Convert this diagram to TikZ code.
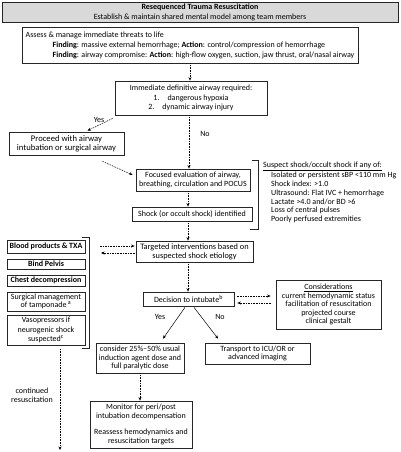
\documentclass[tikz,border=0pt]{standalone}
\usepackage{fontspec}
\setmainfont{Carlito}
\usetikzlibrary{arrows.meta,calc}
\begin{document}
\begin{tikzpicture}[x=1pt,y=-1pt,
  font=\fontsize{8}{8.8}\selectfont,
  box/.style={draw=black!85, line width=0.7pt, align=center, inner sep=0pt, anchor=center},
  dotarrow/.style={densely dotted, line width=0.6pt, -{Stealth[length=3.5pt,width=3pt]}},
  dasharrow/.style={dash pattern=on 1.6pt off 1pt, line width=0.5pt, -{Stealth[length=3.5pt,width=3pt]}},
  solarrow/.style={line width=0.5pt, -{Stealth[length=3.5pt,width=3pt]}},
  brack/.style={draw=black!85, line width=0.6pt},
  lbl/.style={inner sep=0pt}]
\useasboundingbox (0,0) rectangle (400,452);

% main boxes
\node[box, fill=black!15, minimum width=396pt, minimum height=20pt, font=\fontsize{8}{10}\selectfont] (title) at (200,12)
  {\textbf{Resequenced Trauma Resuscitation}\\Establish \& maintain shared mental model among team members};
\node[box, align=left, minimum width=336pt, minimum height=36pt, font=\fontsize{8}{10}\selectfont] (assess) at (190,45)
  {Assess \& manage immediate threats to life\\
   \hspace*{27pt}\textbf{Finding}: massive external hemorrhage; \textbf{Action}: control/compression of hemorrhage\\
   \hspace*{27pt}\textbf{Finding}: airway compromise: \textbf{Action}: high-flow oxygen, suction, jaw thrust, oral/nasal airway};
\node[box, minimum width=152pt, minimum height=34pt, font=\fontsize{8}{9.8}\selectfont] (airway) at (191,98)
  {Immediate definitive airway required:\\1.\hspace{8pt}dangerous hypoxia\\2.\hspace{8pt}dynamic airway injury};
\node[box, minimum width=115pt, minimum height=23pt, font=\fontsize{8.6}{9.2}\selectfont] (proceed) at (66.5,143.5)
  {Proceed with airway\\intubation or surgical airway};
\node[box, minimum width=114pt, minimum height=22pt] (focused) at (193,180)
  {Focused evaluation of airway,\\breathing, circulation and POCUS};
\node[box, minimum width=120pt, minimum height=14pt] (shock) at (192,214)
  {Shock (or occult shock) identified};
\node[box, minimum width=117pt, minimum height=21pt, font=\fontsize{8.3}{9}\selectfont] (targeted) at (194.5,251.5)
  {Targeted interventions based on\\suspected shock etiology};
\node[box, minimum width=91pt, minimum height=14pt] (decision) at (188.5,299)
  {Decision to intubate\textsuperscript{b}};
\node[box, minimum width=105pt, minimum height=49pt, font=\fontsize{8}{8.5}\selectfont] (considerations) at (328.5,304.5)
  {\underline{Considerations}\\current hemodynamic status\\facilitation of resuscitation\\projected course\\clinical gestalt};
\node[box, minimum width=88pt, minimum height=30pt] (consider) at (140,358)
  {consider 25\%–50\% usual\\induction agent dose and\\full paralytic dose};
\node[box, minimum width=105pt, minimum height=21pt] (transport) at (257.5,353.5)
  {Transport to ICU/OR or\\advanced imaging};
\node[box, minimum width=102pt, minimum height=47pt] (monitor) at (141,424.5)
  {Monitor for peri/post\\intubation decompensation\\[8pt]Reassess hemodynamics and\\resuscitation targets};

% left stack
\node[box, minimum width=78pt, minimum height=13pt] (blood) at (46,246.5) {\textbf{Blood products \& TXA}};
\node[box, minimum width=78pt, minimum height=10pt] (pelvis) at (46,264) {\textbf{Bind Pelvis}};
\node[box, minimum width=78pt, minimum height=11pt] (chest) at (46,280.5) {\textbf{Chest decompression}};
\node[box, minimum width=78pt, minimum height=19pt, font=\fontsize{8}{8.2}\selectfont] (surg) at (46,301.5) {Surgical management\\of tamponade\,\textsuperscript{a}};
\node[box, minimum width=78pt, minimum height=30pt, font=\fontsize{8}{9.4}\selectfont] (vaso) at (46,330) {Vasopressors if\\neurogenic shock\\suspected\textsuperscript{c}};

% brackets
\draw[brack] (82,237) -- (89,237) -- (89,348) -- (82,348);
\draw[brack] (252,160) -- (258,160) -- (258,229) -- (250,229);

% suspect text
\node[lbl, anchor=north west, align=left] (suspect) at (263,162)
  {\underline{Suspect shock/occult shock if any of:}\\
   \hspace*{8pt}Isolated or persistent sBP <110 mm Hg\\
   \hspace*{8pt}Shock index: >1.0\\
   \hspace*{8pt}Ultrasound: Flat IVC + hemorrhage\\
   \hspace*{8pt}Lactate >4.0 and/or BD >6\\
   \hspace*{8pt}Loss of central pulses\\
   \hspace*{8pt}Poorly perfused extremities};

% labels
\node[lbl] (yes1) at (99,120) {Yes};
\node[lbl] (no1) at (205,134) {No};
\node[lbl] (yes2) at (160,317) {Yes};
\node[lbl] (no2) at (220,317) {No};
\node[lbl, align=center] (cont) at (32,395) {continued\\resuscitation};

% coordinates
\coordinate (lbr1) at (100,246);
\coordinate (lbr2) at (101,253);
\coordinate (lbot) at (60,349);
\coordinate (cend) at (60,450);

% connectors
\draw[dotarrow] (assess.south) -- (assess.south |- airway.north);
\draw[dasharrow] ($(airway.south west)+(-2,3)$) -- ($(proceed.north)+(21,-1)$);
\draw[dotarrow] ($(airway.south)+(-2,0)$) -- ($(focused.north)+(-4,0)$);
\draw[dasharrow] ($(proceed.south)+(36,6)$) -- ($(focused.west)+(-3,-5)$);
\draw[dotarrow] ($(focused.south)+(-5,0)$) -- ($(shock.north)+(-4,0)$);
\draw[dotarrow] ($(shock.south)+(-4,0)$) -- ($(targeted.north)+(-6.5,0)$);
\draw[dotarrow] ($(targeted.south)+(-6.5,0)$) -- ($(decision.north)+(-0.5,0)$);
\draw[dasharrow] (lbr1) -- ($(lbr1 -| targeted.west)+(-1,0)$);
\draw[dasharrow] ($(lbr2 -| targeted.west)+(-1,0)$) -- (lbr2);
\draw[dasharrow] ($(decision.east)+(3,-3)$) -- ($(decision.east -| considerations.west)+(-5,-3)$);
\draw[dasharrow] ($(decision.east -| considerations.west)+(-5,4)$) -- ($(decision.east)+(3,4)$);
\draw[solarrow] ($(decision.south)+(-3.5,1)$) -- ($(consider.north)+(23,-4)$);
\draw[solarrow] ($(decision.south)+(5.5,1)$) -- ($(transport.north)+(-39.5,-4)$);
\draw[dotarrow] (consider.south) -- (consider.south |- monitor.north);
\draw[dotarrow] (lbot) -- (cend);
\end{tikzpicture}
\end{document}
